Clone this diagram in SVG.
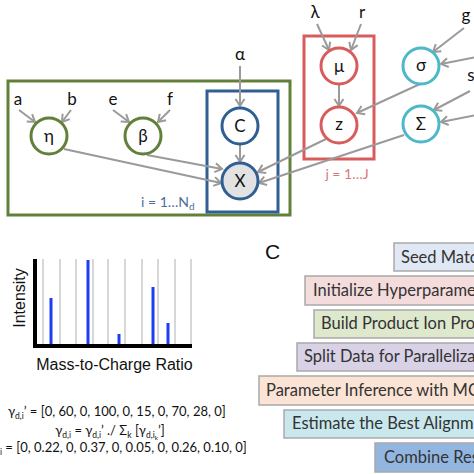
<svg xmlns="http://www.w3.org/2000/svg" width="474" height="474" viewBox="0 0 474 474">
<style>
.lbl{font-family:Lato,"Open Sans",sans-serif;font-size:17px;fill:#111;text-anchor:middle}
.node{fill:#fff;stroke-width:3}
.g{stroke:#62803a}
.b{stroke:#2f5f93}
.r{stroke:#d85c5c}
.c{stroke:#4db8c9}
.edge{stroke:#9a9a9a;stroke-width:2;fill:none;marker-end:url(#ah)}
.grid{stroke:#cacaca;stroke-width:1.5}
.bar{stroke:#1e3cf2;stroke-width:3}
.ax{stroke:#000;stroke-width:4;fill:none}
.ar{font-family:"Liberation Sans",Arial,sans-serif;fill:#111}
.fm{font-family:Lato,"Open Sans",sans-serif;font-size:13px;fill:#111}
.box{stroke:#a9a9a9;stroke-width:1.5}
.bt{font-family:Lato,"Open Sans",sans-serif;font-size:16.5px;fill:#333}
</style>
<defs>
<marker id="ah" markerUnits="userSpaceOnUse" markerWidth="12" markerHeight="12" refX="9" refY="6" orient="auto">
<path d="M2,1.5 L9,6 L2,10.5" fill="none" stroke="#9a9a9a" stroke-width="2"/>
</marker>
</defs>
<rect width="474" height="474" fill="#fff"/>

<!-- plates -->
<g id="plate-i">
<rect x="8" y="81" width="282" height="134" fill="none" stroke="#62803a" stroke-width="3"/>
</g>
<g id="plate-d">
<rect x="207" y="91" width="71" height="121" fill="none" stroke="#2f5f93" stroke-width="3"/>
<text x="141" y="207" style="font-family:Lato,'Open Sans',sans-serif;font-size:14px;fill:#4d6e99">i = 1…N<tspan font-size="10" dy="3">d</tspan></text>
</g>
<g id="plate-j">
<rect x="304" y="36" width="70" height="123" fill="none" stroke="#d85c5c" stroke-width="3"/>
<text x="347" y="179" style="font-family:Lato,'Open Sans',sans-serif;font-size:14px;fill:#d87a7a;text-anchor:middle">j = 1…J</text>
</g>

<!-- connectors -->
<g id="connectors">
<line class="edge" x1="19" y1="110" x2="35" y2="122"/>
<line class="edge" x1="71" y1="110" x2="62" y2="122"/>
<line class="edge" x1="113" y1="110" x2="129" y2="122"/>
<line class="edge" x1="170" y1="110" x2="158" y2="122"/>
<line class="edge" x1="240" y1="66" x2="240" y2="106"/>
<line class="edge" x1="240" y1="145" x2="240" y2="162"/>
<line class="edge" x1="317" y1="24" x2="329" y2="50"/>
<line class="edge" x1="361" y1="24" x2="351" y2="50"/>
<line class="edge" x1="339" y1="85" x2="339" y2="106"/>
<line class="edge" x1="464" y1="28" x2="433" y2="52"/>
<line class="edge" x1="476" y1="57" x2="441" y2="64"/>
<line class="edge" x1="470" y1="91" x2="434" y2="110"/>
<line class="edge" x1="476" y1="115" x2="441" y2="122"/>
<line class="edge" x1="64" y1="149" x2="221" y2="183"/>
<line class="edge" x1="147" y1="155" x2="222" y2="169"/>
<line class="edge" x1="420" y1="84" x2="357" y2="113"/>
<line class="edge" x1="326" y1="139" x2="258" y2="172"/>
<line class="edge" x1="404" y1="135" x2="259" y2="183"/>
</g>

<!-- hyperparameter labels -->
<g id="labels">
<text class="lbl" x="18" y="105">a</text>
<text class="lbl" x="72" y="105">b</text>
<text class="lbl" x="113" y="105">e</text>
<text class="lbl" x="170" y="105">f</text>
<text class="lbl" x="240" y="60">α</text>
<text class="lbl" x="315" y="18">λ</text>
<text class="lbl" x="362" y="18">r</text>
<text class="lbl" x="466" y="21">g</text>
<text class="lbl" x="471" y="81">s</text>
</g>

<!-- nodes -->
<g id="eta"><circle class="node g" cx="49" cy="136" r="18"/><text class="lbl" x="49" y="142">η</text></g>
<g id="beta"><circle class="node g" cx="143" cy="136" r="18"/><text class="lbl" x="143" y="142">β</text></g>
<g id="C"><circle class="node b" cx="240" cy="126" r="18"/><text class="lbl" x="240" y="132">C</text></g>
<g id="X"><circle class="node b" cx="240" cy="181" r="18" style="fill:#e2e2e2"/><text class="lbl" x="240" y="187">X</text></g>
<g id="mu"><circle class="node r" cx="339" cy="66" r="18"/><text class="lbl" x="339" y="72">μ</text></g>
<g id="z"><circle class="node r" cx="339" cy="125" r="18"/><text class="lbl" x="339" y="130">z</text></g>
<g id="sigma"><circle class="node c" cx="421" cy="66" r="18"/><text class="lbl" x="421" y="71">σ</text></g>
<g id="Sigma"><circle class="node c" cx="421" cy="124" r="18"/><text class="lbl" x="421" y="130">Σ</text></g>

<!-- spectrum chart -->
<g id="chart">
<line class="grid" x1="43" y1="259" x2="43" y2="344"/>
<line class="grid" x1="60" y1="259" x2="60" y2="344"/>
<line class="grid" x1="76" y1="259" x2="76" y2="344"/>
<line class="grid" x1="93" y1="259" x2="93" y2="344"/>
<line class="grid" x1="108" y1="259" x2="108" y2="344"/>
<line class="grid" x1="125" y1="259" x2="125" y2="344"/>
<line class="grid" x1="142" y1="259" x2="142" y2="344"/>
<line class="grid" x1="158" y1="259" x2="158" y2="344"/>
<line class="grid" x1="175" y1="259" x2="175" y2="344"/>
<line class="grid" x1="191" y1="259" x2="191" y2="344"/>
<line class="bar" x1="51" y1="298" x2="51" y2="345"/>
<line class="bar" x1="88" y1="260" x2="88" y2="345"/>
<line class="bar" x1="119" y1="334" x2="119" y2="345"/>
<line class="bar" x1="153" y1="287" x2="153" y2="345"/>
<line class="bar" x1="168" y1="323" x2="168" y2="345"/>
<path class="ax" d="M35,259 L35,346 L192,346"/>
<text class="ar" font-size="16" text-anchor="middle" transform="translate(25,298) rotate(-90)">Intensity</text>
<text class="ar" font-size="16" text-anchor="middle" x="114.5" y="370">Mass-to-Charge Ratio</text>
</g>

<!-- formulas -->
<g id="formulas">
<text class="fm" x="8" y="416">γ<tspan font-size="8.5" dy="3">d,i</tspan><tspan dy="-3">’ = [0, 60, 0, 100, 0, 15, 0, 70, 28, 0]</tspan></text>
<text class="fm" x="110" y="435" text-anchor="middle">γ<tspan font-size="8.5" dy="3">d,i</tspan><tspan dy="-3"> = γ</tspan><tspan font-size="8.5" dy="3">d,i</tspan><tspan dy="-3">’ ./ Σ</tspan><tspan font-size="8.5" dy="3">k</tspan><tspan dy="-3"> [γ</tspan><tspan font-size="8.5" dy="3">d,i</tspan><tspan font-size="6.5" dy="2">k</tspan><tspan dy="-5">’]</tspan></text>
<text class="fm" x="0" y="452"><tspan font-size="8.5" dy="3">i</tspan><tspan dy="-3"> = [0, 0.22, 0, 0.37, 0, 0.05, 0, 0.26, 0.10, 0]</tspan></text>
</g>

<!-- panel C -->
<text class="ar" font-size="21" x="265" y="259">C</text>
<g id="step1"><rect class="box" x="394" y="243" width="86" height="28" fill="#dfe8f4"/><text class="bt" x="401" y="263">Seed Matc</text></g>
<g id="step2"><rect class="box" x="305" y="276" width="175" height="29" fill="#f3dcdb"/><text class="bt" x="313" y="296">Initialize Hyperparame</text></g>
<g id="step3"><rect class="box" x="314" y="310" width="166" height="28" fill="#dde8cd"/><text class="bt" x="321" y="329">Build Product Ion Pro</text></g>
<g id="step4"><rect class="box" x="297" y="343" width="183" height="28" fill="#d9d1e6"/><text class="bt" x="304" y="362">Split Data for Paralleliza</text></g>
<g id="step5"><rect class="box" x="259" y="376" width="221" height="29" fill="#fbe4d5"/><text class="bt" x="266" y="396">Parameter Inference with MC</text></g>
<g id="step6"><rect class="box" x="284" y="410" width="196" height="28" fill="#c8e8ee"/><text class="bt" x="292" y="429">Estimate the Best Alignm</text></g>
<g id="step7"><rect class="box" x="375" y="443" width="105" height="29" fill="#93b6e1"/><text class="bt" x="384" y="463">Combine Res</text></g>
</svg>
